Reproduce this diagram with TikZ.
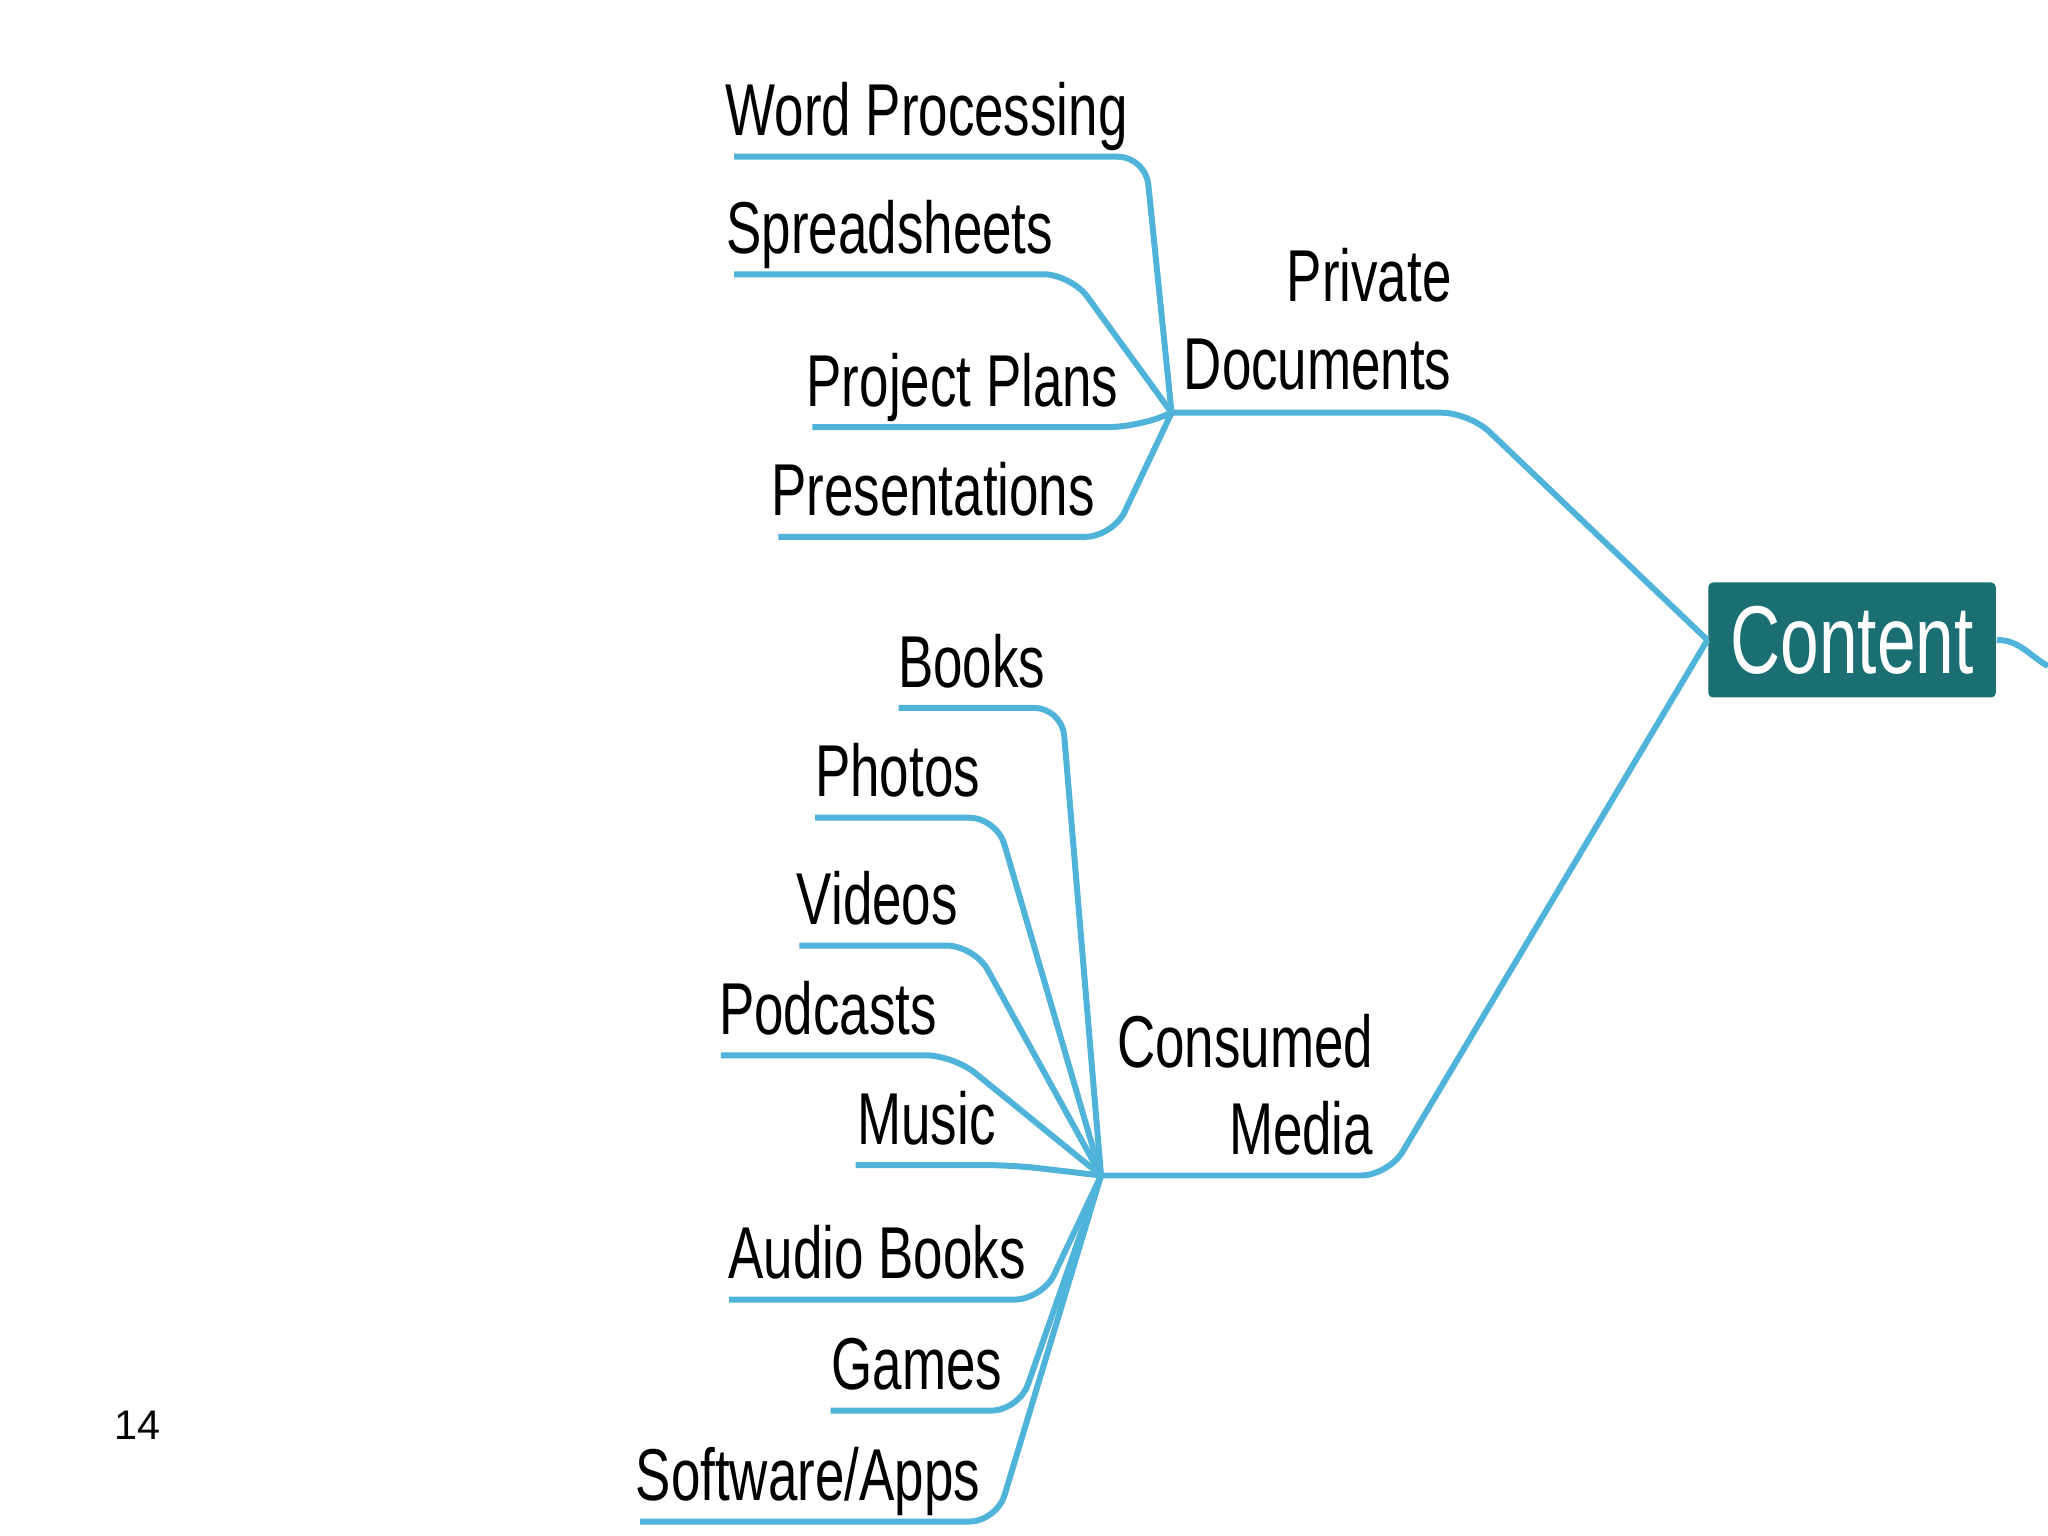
\documentclass[tikz,border=0pt]{standalone}
\usepackage{fontspec}
\setmainfont{Liberation Sans}
\newfontfamily\narrowf[FakeStretch=0.72]{Liberation Sans}
\definecolor{lnc}{HTML}{4FB3DA}
\definecolor{teal}{HTML}{1B6E72}
\begin{document}
\begin{tikzpicture}[x=0.01cm,y=-0.01cm,
  lbl/.style={anchor=base east,font=\narrowf\fontsize{16}{19}\selectfont,inner sep=0pt},
  ln/.style={draw=lnc,line width=1.3pt,rounded corners=6pt}]
\useasboundingbox (0,0) rectangle (1568,1176);
\fill[white] (0,0) rectangle (1568,1176);
% hubs
\coordinate (h1) at (897,316);
\coordinate (h2) at (843,900);
% Content
\node[fill=teal,text=white,minimum width=2.2cm,minimum height=0.88cm,inner sep=0pt,font=\narrowf\fontsize{21}{24}\selectfont,rounded corners=1pt] (content) at (1418,490) {Content};
\coordinate (cout) at (1568,510);
\draw[ln] (content.east) to[out=0,in=150] (cout);
% Private Documents
\node[lbl,align=right] (pd) at (1112,298) {Private\\Documents};
\coordinate (pde) at (1125,316);
\draw[ln] (h1) -- (pde) -- (content.west);
% Consumed Media
\node[lbl,align=right] (cm) at (1052,884) {Consumed\\Media};
\coordinate (cme) at (1063,900);
\draw[ln] (h2) -- (cme) -- (content.west);
% group 1
\foreach \n/\t/\a/\b/\y in {wp/Word Processing/562/877/120, ss/Spreadsheets/562/820/210, pp/Project Plans/622/870/327, pr/Presentations/596/852/411}{
  \node[lbl] (\n) at (\b-13,\y-16) {\t};
  \coordinate (\n s) at (\a,\y);
  \coordinate (\n e) at (\b,\y);
  \draw[ln] (\n s) -- (\n e) -- (h1);
}
% group 2
\foreach \n/\t/\a/\b/\y in {bk/Books/688/813/542, ph/Photos/624/763/626, vd/Videos/612/746/724, pc/Podcasts/552/730/808, mu/Music/655/775/892, ab/Audio Books/558/798/995, gm/Games/636/780/1080, sw/Software\slash Apps/490/763/1165}{
  \node[lbl] (\n) at (\b-12,\y-16) {\t};
  \coordinate (\n s) at (\a,\y);
  \coordinate (\n e) at (\b,\y);
  \draw[ln] (\n s) -- (\n e) -- (h2);
}
\node[anchor=base west,font=\fontsize{9}{11}\selectfont,inner sep=0pt] (pg) at (87,1102) {14};
\end{tikzpicture}
\end{document}
